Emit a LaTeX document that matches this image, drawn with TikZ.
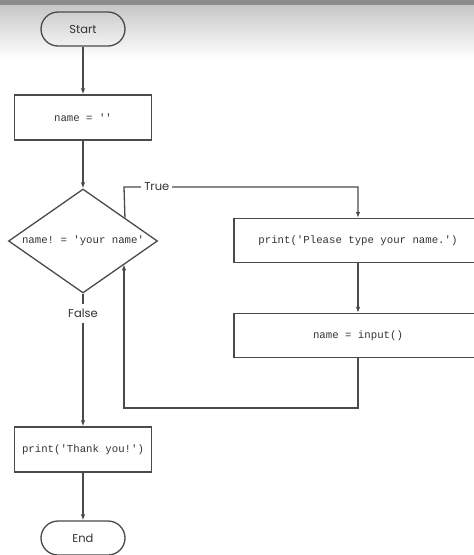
\documentclass[tikz,border=0pt]{standalone}
\usepackage{fontspec}
\setsansfont{Poppins}
\setmonofont{Liberation Mono}
\usetikzlibrary{shapes.geometric,arrows.meta}
\definecolor{linegray}{HTML}{4A4A4A}
\definecolor{textgray}{HTML}{333333}
\tikzset{
  flowline/.style={draw=linegray, line width=1.3pt},
  arr/.style={flowline, -{Latex[length=6pt,width=4.5pt]}},
  terminal/.style={draw=linegray, line width=1.3pt, rounded corners=17pt,
    minimum width=84pt, minimum height=34pt, inner sep=0pt, text=textgray,
    font=\sffamily\fontsize{11.5}{12}\selectfont},
  procbox/.style={draw=linegray, line width=1.3pt, rectangle, inner sep=0pt,
    text=textgray, font=\ttfamily\fontsize{10.7}{12}\selectfont},
  smallbox/.style={procbox, minimum width=137pt, minimum height=45pt},
  widebox/.style={procbox, minimum width=248pt, minimum height=44pt},
  decision/.style={diamond, aspect=1.433, draw=linegray, line width=1.3pt, inner sep=0pt,
    minimum width=149pt, minimum height=104pt, text=textgray,
    font=\ttfamily\fontsize{10.7}{12}\selectfont},
  lbl/.style={fill=white, text=textgray, inner xsep=3pt, inner ysep=5pt,
    font=\sffamily\fontsize{11.5}{12}\selectfont}
}
\begin{document}
\begin{tikzpicture}[x=1pt,y=-1pt]
\useasboundingbox (0,0) rectangle (474,555);
% screenshot top shading
\fill[black!45] (0,0) rectangle (474,5);
\shade[top color=black!22, bottom color=white] (0,5) rectangle (474,58);

\node[terminal] (start) at (83,29) {Start};
\node[smallbox] (init) at (83,117.5) {name = ''};
\node[decision] (dec) at (83,241) {name! = 'your name'};
\node[widebox] (please) at (358,240.5) {print('Please type your name.')};
\node[widebox] (input) at (358,335.5) {name = input()};
\node[smallbox] (thanks) at (83,449.5) {print('Thank you!')};
\node[terminal] (end) at (83,538) {End};

\coordinate (truec) at (124,187);
\coordinate (loopc) at (124,408);

\draw[arr] (start) -- (init);
\draw[arr] (init) -- (dec);
\draw[arr] (dec.29.7) -- (truec) -| node[lbl, pos=0.07] {True} (please.north);
\draw[arr] (please) -- (input);
\draw[arr] (input.south) |- (loopc) -- (loopc |- dec.-29.7);
\draw[arr] (dec.south) -- node[lbl, pos=0.15] {False} (thanks.north);
\draw[arr] (thanks) -- (end);
\end{tikzpicture}
\end{document}
